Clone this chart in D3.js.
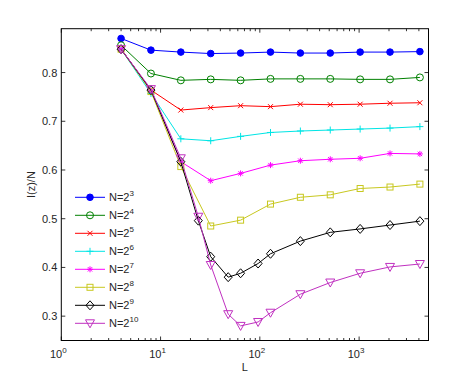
<!DOCTYPE html>
<html><head><meta charset="utf-8">
<script src="https://cdn.jsdelivr.net/npm/d3@7"></script>
<style>
body{margin:0;background:#fff;}
svg text{font-family:"Liberation Sans",Arial,sans-serif;fill:#262626;}
</style></head>
<body><svg id="c" width="474" height="383"></svg>
<script>
const Ls  = [4,8,16,32,64,128,256,512,1024,2048,4096];
const Ls2 = [4,8,16,24,32,48,64,96,128,256,512,1024,2048,4096];
const exps = [3,4,5,6,7,8,9,10];
const n3  = [0.870,0.846,0.842,0.839,0.840,0.842,0.840,0.840,0.842,0.842,0.843];
const n4  = [0.856,0.798,0.784,0.786,0.784,0.787,0.787,0.787,0.786,0.786,0.790];
const n5  = [0.848,0.764,0.723,0.728,0.732,0.730,0.735,0.734,0.735,0.737,0.738];
const n6  = [0.848,0.757,0.664,0.660,0.669,0.677,0.680,0.682,0.684,0.686,0.689];
const n7  = [0.848,0.764,0.617,0.578,0.593,0.610,0.619,0.622,0.624,0.634,0.633];
const n8  = [0.848,0.761,0.607,0.485,0.497,0.530,0.544,0.549,0.562,0.565,0.571];
const n9  = [0.848,0.764,0.617,0.496,0.422,0.380,0.388,0.408,0.428,0.454,0.472,0.479,0.487,0.495];
const n10 = [0.848,0.766,0.624,0.504,0.405,0.304,0.280,0.288,0.307,0.345,0.369,0.388,0.401,0.407];
const colors = ["#0000ff","#008000","#ff0000","#00e5e5","#ff00ff","#c8c820","#000000","#c030c0"];
const markers = ["dot","circle","x","plus","star","square","diamond","tri"];
const yTicks = [0.3,0.4,0.5,0.6,0.7,0.8];
const xTicks = [1,10,100,1000];

const series = [
  {x:Ls,y:n3},{x:Ls,y:n4},{x:Ls,y:n5},{x:Ls,y:n6},
  {x:Ls,y:n7},{x:Ls,y:n8},{x:Ls2,y:n9},{x:Ls2,y:n10}
];

const svg = d3.select("#c");
const L=61.3,R=428.5,T=28.7,B=340.5;
const x = d3.scaleLog().domain([1,5000]).range([L,R]);
const y = d3.scaleLinear().domain([0.25,0.89]).range([B,T]);

// frame
svg.append("rect").attr("x",L).attr("y",T).attr("width",R-L).attr("height",B-T)
  .attr("fill","#fff").attr("stroke","#000").attr("stroke-width",1);

// ticks
const g = svg.append("g").attr("stroke","#000").attr("stroke-width",0.8);
yTicks.forEach(v=>{
  g.append("line").attr("x1",L).attr("x2",L+4).attr("y1",y(v)).attr("y2",y(v));
  g.append("line").attr("x1",R).attr("x2",R-4).attr("y1",y(v)).attr("y2",y(v));
});
const minor=[];
for(let d=1; d<=1000; d*=10) for(let k=2;k<=9;k++){ if(d*k<5000) minor.push(d*k); }
xTicks.forEach(v=>{
  g.append("line").attr("x1",x(v)).attr("x2",x(v)).attr("y1",B).attr("y2",B-4);
  g.append("line").attr("x1",x(v)).attr("x2",x(v)).attr("y1",T).attr("y2",T+4);
});
minor.forEach(v=>{
  g.append("line").attr("x1",x(v)).attr("x2",x(v)).attr("y1",B).attr("y2",B-2.5);
  g.append("line").attr("x1",x(v)).attr("x2",x(v)).attr("y1",T).attr("y2",T+2.5);
});

// tick labels
yTicks.forEach(v=>{
  svg.append("text").attr("x",L-4).attr("y",y(v)+4).attr("text-anchor","end")
    .attr("font-size",11).text(d3.format(".1f")(v));
});
xTicks.forEach(v=>{
  const t = svg.append("text").attr("x",x(v)-3).attr("y",358).attr("text-anchor","middle").attr("font-size",11);
  t.append("tspan").text("10");
  t.append("tspan").attr("font-size",8).attr("dy",-5).text(Math.round(Math.log10(v)));
});
svg.append("text").attr("x",(L+R)/2).attr("y",371).attr("text-anchor","middle").attr("font-size",11).text("L");
svg.append("text").attr("transform",`translate(35,${(T+B)/2}) rotate(-90)`).attr("text-anchor","middle")
  .attr("font-size",11).text("I(z)/N");

function marker(sel, type, color){
  if(type==="dot") sel.append("circle").attr("r",3.3).attr("fill",color).attr("stroke",color);
  else if(type==="circle") sel.append("circle").attr("r",3.5).attr("fill","none").attr("stroke",color);
  else if(type==="x") sel.append("path").attr("d","M-2.5,-2.5L2.5,2.5M-2.5,2.5L2.5,-2.5").attr("stroke",color);
  else if(type==="plus") sel.append("path").attr("d","M-3.5,0L3.5,0M0,-3.5L0,3.5").attr("stroke",color);
  else if(type==="star") sel.append("path").attr("d","M-3,0L3,0M0,-3L0,3M-2.2,-2.2L2.2,2.2M-2.2,2.2L2.2,-2.2").attr("stroke",color);
  else if(type==="square") sel.append("rect").attr("x",-3).attr("y",-3).attr("width",6).attr("height",6).attr("fill","none").attr("stroke",color);
  else if(type==="diamond") sel.append("path").attr("d","M0,-4.5L4,0L0,4.5L-4,0Z").attr("fill","none").attr("stroke",color);
  else if(type==="tri") sel.append("path").attr("d","M-4.5,-3.5L4.5,-3.5L0,4.5Z").attr("fill","none").attr("stroke",color);
}

const line = d3.line().x(d=>x(d[0])).y(d=>y(d[1]));
series.forEach((s,i)=>{
  const pts = s.x.map((v,j)=>[v,s.y[j]]);
  const gs = svg.append("g");
  gs.append("path").attr("d",line(pts)).attr("fill","none").attr("stroke",colors[i]).attr("stroke-width",1);
  pts.forEach(p=>{
    const m = gs.append("g").attr("transform",`translate(${x(p[0])},${y(p[1])})`).attr("stroke-width",1);
    marker(m, markers[i], colors[i]);
  });
});

// legend
exps.forEach((e,i)=>{
  const yy = 197.3 + i*18;
  const lg = svg.append("g");
  lg.append("line").attr("x1",75).attr("x2",105).attr("y1",yy).attr("y2",yy).attr("stroke",colors[i]).attr("stroke-width",1);
  const m = lg.append("g").attr("transform",`translate(90,${yy})`).attr("stroke-width",1);
  marker(m, markers[i], colors[i]);
  const t = lg.append("text").attr("x",109).attr("y",yy+4).attr("font-size",11);
  t.append("tspan").text("N=2");
  t.append("tspan").attr("font-size",8).attr("dy",-5).text(e);
});
</script></body></html>
